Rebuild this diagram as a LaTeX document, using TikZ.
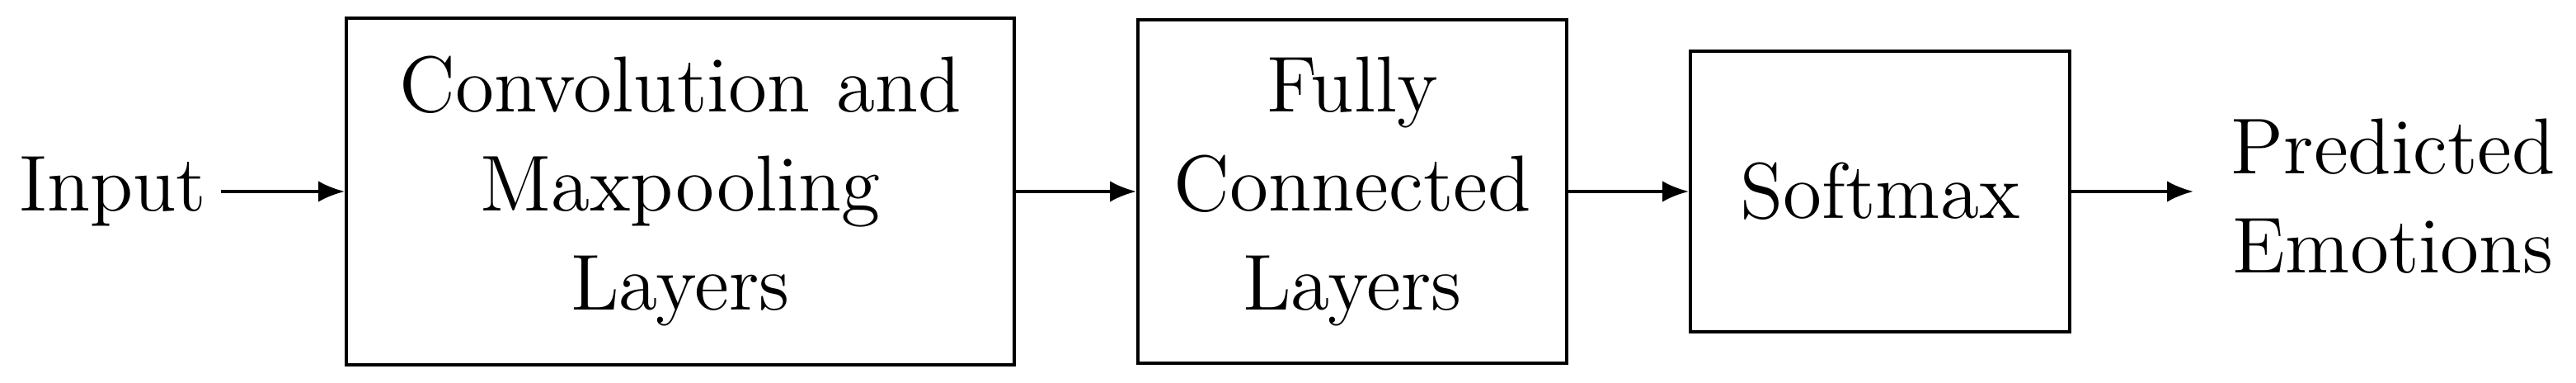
\documentclass[tikz,border=0pt]{standalone}
\usetikzlibrary{arrows.meta}
\begin{document}
\begin{tikzpicture}[x=0.25pt,y=-0.25pt,
  box/.style={draw,line width=0.5pt,inner sep=0pt},
  lbl/.style={align=center,font=\fontsize{12}{15}\selectfont},
  arr/.style={-{Latex[length=4pt,width=3.2pt]},line width=0.5pt}]
\useasboundingbox (0,0) rectangle (1562,232);
\node[box,minimum width=405*0.25pt,minimum height=210*0.25pt] (b1) at (412.5,116) {};
\node[lbl] at (b1) {Convolution and\\Maxpooling\\Layers};
\node[box,minimum width=260*0.25pt,minimum height=208*0.25pt] (b2) at (820,116) {};
\node[lbl] at (b2) {Fully\\Connected\\Layers};
\node[box,minimum width=230*0.25pt,minimum height=170*0.25pt] (b3) at (1140,116) {};
\node[lbl] at (b3) {Softmax};
\node[lbl,anchor=east,inner sep=0pt] (in) at (126,116) {Input};
\node[lbl,anchor=west,inner sep=0pt] (out) at (1352,119) {Predicted\\Emotions};
\coordinate (y) at (0,116);
\draw[arr] ([xshift=2pt]in.east|-y) -- (b1.west);
\draw[arr] (b1.east) -- (b2.west);
\draw[arr] (b2.east) -- (b3.west);
\draw[arr] (b3.east) -- ([xshift=-5.5pt]out.west|-y);
\end{tikzpicture}
\end{document}
